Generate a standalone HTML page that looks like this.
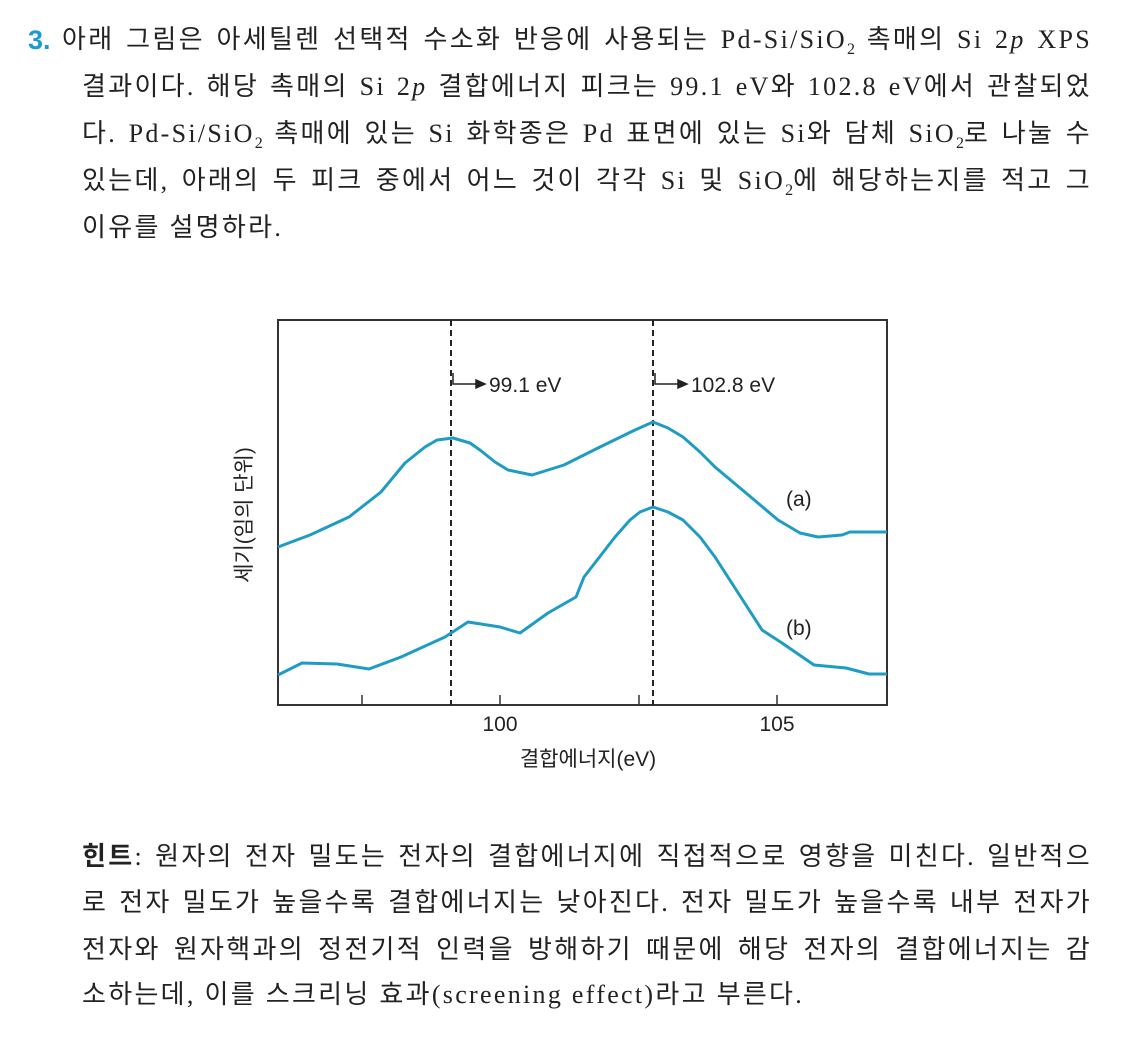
<!DOCTYPE html>
<html><head><meta charset="utf-8"><style>
body{margin:0;width:1135px;height:1060px;background:#fff;position:relative;overflow:hidden;font-family:"Liberation Serif","Noto Sans CJK KR",serif;color:#222;}
.l{position:absolute;left:82px;width:1010px;font-size:26px;line-height:30px;letter-spacing:2.3px;white-space:nowrap;text-align:justify;text-align-last:justify;}
.n{position:absolute;left:28px;top:25px;font:bold 27px "Liberation Sans",sans-serif;color:#1b9bd1;}
sub{font-size:16px;line-height:0;letter-spacing:0;}
svg text{font-family:"Liberation Sans","Noto Sans CJK KR",sans-serif;fill:#222;}
</style></head><body>
<div class="n">3.</div>
<div class="l" style="top:25px;left:62px;width:1030px">아래 그림은 아세틸렌 선택적 수소화 반응에 사용되는 Pd-Si/SiO<sub>2</sub> 촉매의 Si 2<i>p</i> XPS</div>
<div class="l" style="top:72px">결과이다. 해당 촉매의 Si 2<i>p</i> 결합에너지 피크는 99.1 eV와 102.8 eV에서 관찰되었</div>
<div class="l" style="top:119px">다. Pd-Si/SiO<sub>2</sub> 촉매에 있는 Si 화학종은 Pd 표면에 있는 Si와 담체 SiO<sub>2</sub>로 나눌 수</div>
<div class="l" style="top:166px">있는데, 아래의 두 피크 중에서 어느 것이 각각 Si 및 SiO<sub>2</sub>에 해당하는지를 적고 그</div>
<div class="l" style="top:213px;width:auto;text-align:left;text-align-last:left">이유를 설명하라.</div>

<svg width="1135" height="1060" style="position:absolute;left:0;top:0">
<rect x="278" y="320" width="609" height="385" fill="none" stroke="#333" stroke-width="2"/>
<g stroke="#333" stroke-width="1.5">
<line x1="362" y1="705" x2="362" y2="695"/><line x1="500" y1="705" x2="500" y2="695"/>
<line x1="639" y1="705" x2="639" y2="695"/><line x1="777" y1="705" x2="777" y2="695"/>
</g>
<g stroke="#222" stroke-width="2" stroke-dasharray="6,4">
<line x1="451" y1="320" x2="451" y2="705"/><line x1="653" y1="320" x2="653" y2="705"/>
</g>
<g stroke="#222" stroke-width="1.5" fill="#222">
<path d="M453 373V384H478" fill="none"/><path d="M485 384L476 380L476 388Z"/>
<path d="M655 373V384H680" fill="none"/><path d="M687 384L678 380L678 388Z"/>
</g>
<text x="489" y="392" font-size="21">99.1 eV</text>
<text x="691" y="392" font-size="21">102.8 eV</text>
<g fill="none" stroke="#1e9cc4" stroke-width="3" stroke-linejoin="round">
<path d="M278 547L310 535L349 517L381 492L405 463L425 447L437 440L453 438L470 443L480 450L495 462L508 470L532 475L564 465L600 447L635 430L653 422L668 428L683 437L700 452L715 467L746 493L778 520L800 533L818 537L842 535L850 532L887 532"/>
<path d="M278 675L302 663L337 664L369 669L401 657L445 637L468 622L500 627L520 633L548 613L576 597L584 577L615 537L630 520L640 512L653 507L668 512L683 520L700 537L715 557L762 630L782 643L814 665L846 668L869 674L887 674"/>
</g>
<text x="786" y="506" font-size="21">(a)</text>
<text x="786" y="635" font-size="21">(b)</text>
<text x="500" y="731" font-size="21" text-anchor="middle">100</text>
<text x="777" y="731" font-size="21" text-anchor="middle">105</text>
<text x="588" y="766" font-size="21" text-anchor="middle">결합에너지(eV)</text>
<text x="0" y="0" font-size="21" text-anchor="middle" transform="translate(251,515) rotate(-90)">세기(임의 단위)</text>
</svg>

<div class="l" style="top:842px"><b>힌트</b>: 원자의 전자 밀도는 전자의 결합에너지에 직접적으로 영향을 미친다. 일반적으</div>
<div class="l" style="top:888px">로 전자 밀도가 높을수록 결합에너지는 낮아진다. 전자 밀도가 높을수록 내부 전자가</div>
<div class="l" style="top:935px">전자와 원자핵과의 정전기적 인력을 방해하기 때문에 해당 전자의 결합에너지는 감</div>
<div class="l" style="top:980px;width:auto;text-align:left;text-align-last:left">소하는데, 이를 스크리닝 효과(screening effect)라고 부른다.</div>
</body></html>
